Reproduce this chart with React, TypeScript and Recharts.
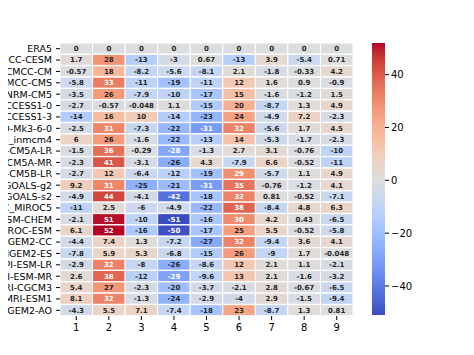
import React from 'react';
import { BarChart, Bar, XAxis, YAxis, Cell, LabelList } from 'recharts';

const rowLabels = [
  'ERA5', 'CMCC-CESM', 'CMCC-CM', 'CMCC-CMS', 'CNRM-CM5', 'ACCESS1-0', 'ACCESS1-3',
  'CSIRO-Mk3-6-0', 'INM_inmcm4', 'IPSL-CM5A-LR', 'IPSL-CM5A-MR', 'IPSL-CM5B-LR',
  'FGOALS-g2', 'FGOALS-s2', 'MIROC_MIROC5', 'MIROC-ESM-CHEM', 'MIROC-ESM',
  'HadGEM2-CC', 'HadGEM2-ES', 'MPI-ESM-LR', 'MPI-ESM-MR', 'MRI-CGCM3', 'MRI-ESM1', 'HadGEM2-AO',
];

const colLabels = ['1', '2', '3', '4', '5', '6', '7', '8', '9'];

const values: number[][] = [
  [0, 0, 0, 0, 0, 0, 0, 0, 0],
  [1.7, 28, -13, -3, 0.67, -13, 3.9, -5.4, 0.71],
  [-0.57, 18, -8.2, -5.6, -8.1, 2.1, -1.8, -0.33, 4.2],
  [-5.8, 33, -11, -19, -11, 12, 1.6, 0.9, -0.9],
  [-3.5, 26, -7.9, -10, -17, 15, -1.6, -1.2, 1.5],
  [-2.7, -0.57, -0.048, 1.1, -15, 20, -8.7, 1.3, 4.9],
  [-14, 16, 10, -14, -23, 24, -4.9, 7.2, -2.3],
  [-2.5, 31, -7.3, -22, -31, 32, -5.6, 1.7, 4.5],
  [6, 26, -1.6, -22, -13, 14, -5.3, -1.7, -2.3],
  [-1.5, 36, -0.29, -28, -1.3, 2.7, 3.1, -0.76, -10],
  [-2.3, 41, -3.1, -26, 4.3, -7.9, 6.6, -0.52, -11],
  [-2.7, 12, -6.4, -12, -19, 29, -5.7, 1.1, 4.9],
  [9.2, 31, -25, -21, -31, 35, -0.76, -1.2, 4.1],
  [-4.9, 44, -4.1, -42, -18, 32, 0.81, -0.52, -7.1],
  [-11, 2.5, -6, -4.9, -22, 38, -8.4, 4.8, 6.3],
  [-2.1, 51, -10, -51, -16, 30, 4.2, 0.43, -6.5],
  [6.1, 52, -16, -50, -17, 25, 5.5, -0.52, -5.8],
  [-4.4, 7.4, 1.3, -7.2, -27, 32, -9.4, 3.6, 4.1],
  [-7.8, 5.9, 5.3, -6.8, -15, 26, -9, 1.7, -0.048],
  [-2.9, 32, -8, -26, -8.6, 12, 2.1, 1.1, -2.1],
  [2.6, 38, -12, -29, -9.6, 13, 2.1, -1.6, -3.2],
  [5.4, 27, -2.3, -20, -3.7, -2.1, 2.8, -0.67, -6.5],
  [8.1, 32, -1.3, -24, -2.9, -4, 2.9, -1.5, -9.4],
  [-4.3, 5.5, 7.1, -7.4, -18, 23, -8.7, 1.3, 0.81],
];

const colorbarTicks = [-40, -20, 0, 20, 40];

const flat = values.reduce((a, r) => a.concat(r), [] as number[]);
const vmin = Math.min(...flat);
const vmax = Math.max(...flat);

// coolwarm (Moreland) table
const cw: number[][] = [
  [59, 76, 192], [68, 90, 204], [77, 104, 215], [87, 117, 225], [98, 130, 234],
  [108, 142, 241], [119, 154, 247], [130, 165, 251], [141, 176, 254], [152, 185, 255],
  [163, 194, 255], [174, 201, 253], [184, 208, 249], [194, 213, 244], [204, 217, 238],
  [213, 219, 230], [221, 221, 221], [229, 216, 209], [236, 211, 197], [241, 204, 184],
  [245, 196, 172], [247, 187, 159], [247, 177, 147], [247, 166, 134], [244, 154, 123],
  [241, 141, 111], [236, 127, 99], [229, 112, 89], [222, 96, 77], [213, 80, 66],
  [203, 62, 56], [192, 40, 47], [180, 4, 38],
];

function rgbAt(t: number): number[] {
  const tt = Math.max(0, Math.min(1, t)) * (cw.length - 1);
  const i = Math.min(cw.length - 2, Math.floor(tt));
  const f = tt - i;
  return [0, 1, 2].map((k) => cw[i][k] + (cw[i + 1][k] - cw[i][k]) * f);
}
function toHex(c: number[]) {
  return 'rgb(' + c.map((x) => Math.round(x)).join(',') + ')';
}
function colorOf(v: number) {
  return toHex(rgbAt((v - vmin) / (vmax - vmin)));
}
function textColorOf(v: number) {
  const c = rgbAt((v - vmin) / (vmax - vmin)).map((x) => {
    const s = x / 255;
    return s <= 0.03928 ? s / 12.92 : Math.pow((s + 0.055) / 1.055, 2.4);
  });
  const lum = 0.2126 * c[0] + 0.7152 * c[1] + 0.0722 * c[2];
  return lum > 0.408 ? '#262626' : '#ffffff';
}

const data = rowLabels.map((name, r) => {
  const o: any = { name };
  colLabels.forEach((_, c) => {
    o['c' + c] = 1;
    o['v' + c] = values[r][c];
  });
  return o;
});

const cbData = [{ name: 'cb', range: [vmin, vmax] }];

const FONT = "'DejaVu Sans', sans-serif";
const tickStyle = { fontSize: 10, fontFamily: FONT, fill: '#000', stroke: 'none', fontWeight: 'normal' as const };
const yTickStyle = { ...tickStyle, fontSize: 9.5 };

const renderLabel = (props: any) => {
  const { x, y, width, height, value } = props;
  if (x == null) return null;
  const cx = Number(x) + Number(width) / 2;
  const cy = Number(y) + Number(height) / 2;
  return (
    <text
      x={cx}
      y={cy}
      dy={2.5}
      textAnchor="middle"
      fontSize={7}
      fontWeight="bold"
      fontFamily={FONT}
      fill={textColorOf(value)}
      stroke="none"
    >
      {String(value)}
    </text>
  );
};

const CbShape = (props: any) => {
  const { x, y, width, height } = props;
  const n = cw.length - 1;
  return (
    <g>
      <defs>
        <linearGradient id="cbGrad" x1="0" y1="0" x2="0" y2="1">
          {cw.map((c, i) => (
            <stop key={i} offset={i / n} stopColor={toHex(cw[n - i])} />
          ))}
        </linearGradient>
      </defs>
      <rect x={x} y={y} width={width} height={height} fill="url(#cbGrad)" />
    </g>
  );
};

export default function App() {
  return (
    <div style={{ position: 'relative', width: 474, height: 355, marginLeft: -8, marginTop: -8 }}>
      <div style={{ position: 'absolute', left: 0, top: 0 }}>
        <BarChart
          width={474}
          height={355}
          data={data}
          layout="vertical"
          margin={{ top: 43, right: 121, bottom: 9, left: 0 }}
          barCategoryGap={0}
          barGap={0}
        >
          <XAxis
            type="number"
            domain={[0, 9]}
            ticks={colLabels.map((_, i) => i + 0.5)}
            tickFormatter={(v: number) => colLabels[Math.round(v - 0.5)]}
            axisLine={false}
            tickSize={4}
            tickMargin={4}
            height={30}
            tick={tickStyle}
            tickLine={{ stroke: '#000' }}
            allowDataOverflow
          />
          <YAxis
            type="category"
            dataKey="name"
            width={60}
            interval={0}
            axisLine={false}
            tickSize={4}
            tickMargin={4}
            tick={yTickStyle}
            tickLine={{ stroke: '#000' }}
          />
          {colLabels.map((_, c) => (
            <Bar key={c} dataKey={'c' + c} stackId="a" isAnimationActive={false}>
              {data.map((row, r) => (
                <Cell key={r} fill={colorOf(values[r][c])} stroke="#ffffff" strokeWidth={1} />
              ))}
              <LabelList dataKey={'v' + c} content={renderLabel} />
            </Bar>
          ))}
        </BarChart>
      </div>
      <div style={{ position: 'absolute', left: 360, top: 0 }}>
        <BarChart
          width={114}
          height={355}
          data={cbData}
          margin={{ top: 43, right: 49, bottom: 40, left: 12 }}
          barCategoryGap={0}
        >
          <XAxis dataKey="name" hide />
          <YAxis
            type="number"
            orientation="right"
            domain={[vmin, vmax]}
            ticks={colorbarTicks}
            tickFormatter={(v: number) => (v < 0 ? '\u2212' + Math.abs(v) : String(v))}
            axisLine={false}
            tickSize={4}
            tickMargin={2}
            width={40}
            tick={tickStyle}
            tickLine={{ stroke: '#000' }}
            allowDataOverflow
          />
          <Bar dataKey="range" isAnimationActive={false} shape={CbShape} />
        </BarChart>
      </div>
    </div>
  );
}
